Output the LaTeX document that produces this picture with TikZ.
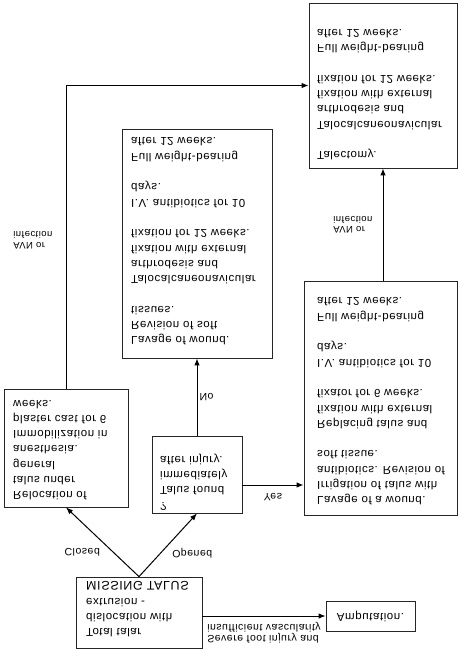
\documentclass[tikz,border=0pt]{standalone}
\usepackage{fontspec}
\setmainfont{Liberation Sans}
\newfontfamily\flowfont[LetterSpace=5]{Liberation Sans}
\usetikzlibrary{arrows.meta,positioning}
\tikzset{>={Latex[length=7pt,width=5.5pt]}}
\tikzset{
  flowbox/.style={draw=black!85, line width=0.8pt, rectangle, inner sep=0pt},
  flowtext/.style={inner sep=0pt, align=left, anchor=north west, font=\flowfont\fontsize{11.5}{15.3}\selectfont},
  steplabel/.style={font=\flowfont\fontsize{10.5}{10.5}\selectfont, inner sep=2pt},
  avnlabel/.style={font=\flowfont\fontsize{9.5}{10.5}\selectfont, inner sep=2pt, align=left},
  link/.style={->, line width=1pt}
}

\begin{document}
\begin{tikzpicture}[x=1pt, y=1pt, yscale=-1, transform shape]
\useasboundingbox (0,0) rectangle (474,661);
% boxes
\node[flowbox, minimum width=126pt, minimum height=71pt] (missing) at (139,612.5) {};
\node[flowbox, minimum width=89pt, minimum height=30pt] (amputation) at (370.5,616) {};
\node[flowbox, minimum width=124pt, minimum height=118pt] (relocation) at (66,448) {};
\node[flowbox, minimum width=90pt, minimum height=77pt] (talusfound) at (197,474.5) {};
\node[flowbox, minimum width=150pt, minimum height=229pt] (lavageone) at (197,243.5) {};
\node[flowbox, minimum width=153pt, minimum height=234pt] (lavagetwo) at (380.5,398) {};
\node[flowbox, minimum width=148pt, minimum height=165pt] (talectomy) at (383,85.5) {};
\coordinate (yesrow) at (0,485);
% box texts
\node[flowtext] (missingtext) at (86,637.4) {Total talar\\dislocation with\\extrusion -\\[1pt]{\fontsize{12.5}{15}\selectfont MISSING TALUS}};
\node[flowtext, anchor=center] (amputationtext) at (amputation) {Amputation.};
\node[flowtext] (relocationtext) at (13,500.4) {Relocation of\\talus under\\general\\anesthesia.\\Immobilization in\\plaster cast for 6\\weeks.};
\node[flowtext] (talusfoundtext) at (160,510.4) {?\\Talus found\\immediately\\after injury.};
\node[flowtext] (lavageonetext) at (131,345.4) {Lavage of wound.\\Revision of soft\\tissues.\\[15.3pt]Talocalcaneonavicular\\arthrodesis and\\fixation with external\\fixation for 12 weeks.\\[15.3pt]I.V. antibiotics for 10\\days.\\[15.3pt]Full weight-bearing\\after 12 weeks.};
\node[flowtext] (lavagetwotext) at (317,505.4) {Lavage of a wound.\\Irrigation of talus with\\antibiotics. Revision of\\soft tissue.\\[15.3pt]Replacing talus and\\fixation with external\\fixator for 6 weeks.\\[15.3pt]I.V. antibiotics for 10\\days.\\[15.3pt]Full weight-bearing\\after 12 weeks.};
\node[flowtext] (talectomytext) at (317,160.4) {Talectomy.\\[15.3pt]Talocalcaneonavicular\\arthrodesis and\\fixation with external\\fixation for 12 weeks.\\[15.3pt]Full weight-bearing\\after 12 weeks.};
% connectors
\draw[link] (missing.south) -- node[steplabel, pos=.35, left=11pt] (closedlabel) {Closed} (relocation.north);
\draw[link] (missing.south) -- node[steplabel, pos=.375, right=9pt] (openedlabel) {Opened} (talusfound.north);
\draw[link] (missing.east |- amputation.west) -- node[steplabel, midway, above=4pt, align=left] (severelabel) {Severe foot injury and\\insufficient vascularity} (amputation.west);
\draw[link] (talusfound.east |- yesrow) -- node[steplabel, midway, above=6pt] (yeslabel) {Yes} (lavagetwo.west |- yesrow);
\draw[link] (talusfound.south) -- node[steplabel, midway, right] (nolabel) {No} (lavageone.north);
\draw[link] (relocation.south) -- node[avnlabel, pos=.49, left=11pt] (avnleft) {AVN or\\infection} (relocation.south |- talectomy.west) -- (talectomy.west);
\draw[link] (lavagetwo.south -| talectomy.north) -- node[avnlabel, midway, left=8pt] (avnright) {AVN or\\infection} (talectomy.north);
\end{tikzpicture}
\end{document}
